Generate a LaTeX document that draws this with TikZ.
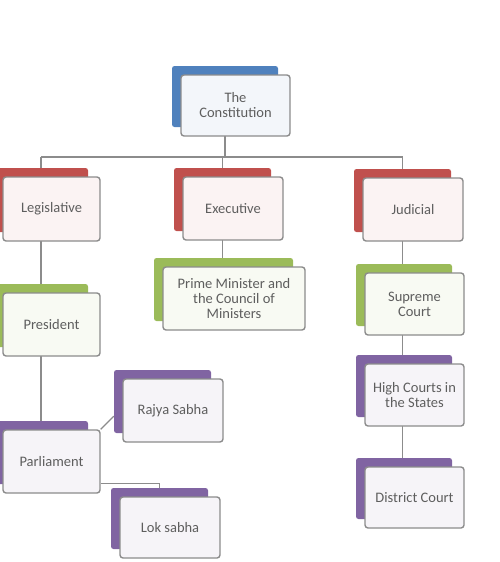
\documentclass[tikz,border=0pt]{standalone}
\usepackage{fontspec}
\setmainfont{Carlito}
\usetikzlibrary{calc,backgrounds}
\definecolor{cblue}{HTML}{4F81BD}
\definecolor{cred}{HTML}{C0504D}
\definecolor{cgreen}{HTML}{9BBB59}
\definecolor{cpurple}{HTML}{8064A2}
\definecolor{edgegray}{HTML}{8C8C8C}
\definecolor{txtgray}{HTML}{5E5E5E}
\tikzset{
  backbox/.style={rectangle, rounded corners=2.5pt, draw=none, inner sep=0pt},
  frontbox/.style={rectangle, rounded corners=3pt, draw=edgegray, line width=1.4pt,
    inner sep=0pt, align=center, text=txtgray, font=\fontsize{14.5}{15}\selectfont},
  conn/.style={draw=edgegray, line width=1.3pt}
}
% name, cx, cy, w, h, colour, text
\newcommand\smbox[7]{%
  \node[backbox, fill=#6, minimum width=#4pt-3pt, minimum height=#5pt]
    (#1B) at (#2-10.5,#3-9) {};
  \node[frontbox, fill=#6!7, minimum width=#4pt, minimum height=#5pt]
    (#1) at (#2,#3) {#7};
}
\begin{document}
\begin{tikzpicture}[x=1pt,y=-1pt]
\useasboundingbox (0,0) rectangle (499,562);
\smbox{const}{235.5}{105.5}{109}{61}{cblue}{The\\Constitution}
\smbox{leg}{51.5}{209}{97}{64}{cred}{Legislative}
\smbox{exec}{233}{208.5}{100}{63}{cred}{Executive}
\smbox{jud}{413}{209.5}{100}{63}{cred}{Judicial}
\smbox{pm}{234}{298.5}{142}{63}{cgreen}{Prime Minister and\\the Council of\\Ministers}
\smbox{pres}{51.5}{324.5}{97}{63}{cgreen}{President}
\smbox{sup}{414.5}{304}{99}{62}{cgreen}{Supreme\\Court}
\smbox{parl}{51.5}{461.5}{97}{63}{cpurple}{Parliament}
\smbox{raj}{173}{410.5}{100}{63}{cpurple}{Rajya Sabha}
\smbox{lok}{170}{527.5}{100}{61}{cpurple}{Lok sabha}
\smbox{high}{414.5}{395}{99}{62}{cpurple}{High Courts in\\the States}
\smbox{dist}{414.5}{497.5}{99}{61}{cpurple}{District Court}
\coordinate (bus) at (0,157);
\begin{scope}[on background layer]
  \draw[conn] (constB) -- (constB |- bus);
  \draw[conn] (legB |- bus) -- (judB |- bus);
  \draw[conn] (legB |- bus) -- (legB);
  \draw[conn] (execB |- bus) -- (execB);
  \draw[conn] (judB |- bus) -- (judB);
  \draw[conn] (legB) -- (legB |- presB);
  \draw[conn] (legB |- presB) -- (legB |- parlB);
  \draw[conn] (execB) -- (execB |- pmB);
  \draw[conn] (judB) -- (judB |- supB);
  \draw[conn] (judB |- supB) -- (judB |- highB);
  \draw[conn] (judB |- highB) -- (judB |- distB);
  \draw[conn] (parl.north east) -- ($(rajB.south west)+(0,-17)$);
  \draw[conn] ($(parl.south east)+(0,-10)$) -| (lokB);
\end{scope}
\end{tikzpicture}
\end{document}
